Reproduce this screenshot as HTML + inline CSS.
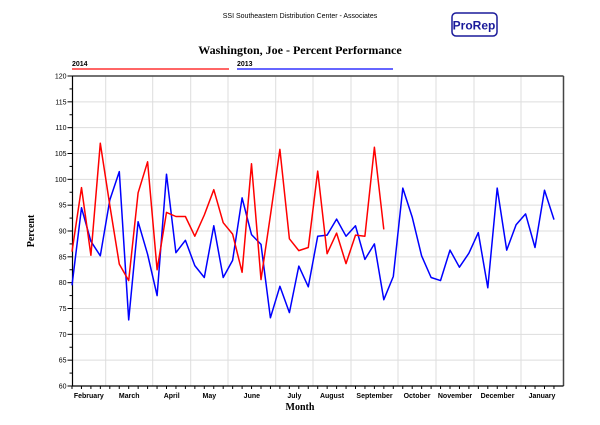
<!DOCTYPE html>
<html><head><meta charset="utf-8"><style>
body{margin:0;background:#fff;width:600px;height:425px;overflow:hidden}
svg{display:block}
</style></head><body>
<svg id="s" width="600" height="425" xmlns="http://www.w3.org/2000/svg" font-family="Liberation Sans, sans-serif">
<text x="300" y="18" font-size="7" text-anchor="middle" fill="#000">SSI Southeastern Distribution Center - Associates</text>
<rect x="452" y="13" width="45" height="23" rx="4" fill="#fff" stroke="#1a1a9a" stroke-width="1.5"/>
<text x="474" y="29.5" font-size="12" font-weight="bold" text-anchor="middle" fill="#1a1a9a">ProRep</text>
<text x="300" y="54" font-size="12" font-weight="bold" text-anchor="middle" font-family="Liberation Serif, serif">Washington, Joe - Percent Performance</text>
<text x="72" y="66" font-size="7" font-weight="bold">2014</text>
<line x1="72" y1="69" x2="229" y2="69" stroke="#f33" stroke-width="1.5"/>
<text x="237" y="66" font-size="7" font-weight="bold">2013</text>
<line x1="237" y1="69" x2="393" y2="69" stroke="#33f" stroke-width="1.5"/>
<g id="g"></g>
<text x="300" y="410" font-size="10" font-weight="bold" text-anchor="middle" font-family="Liberation Serif, serif">Month</text>
<text transform="translate(34,231) rotate(-90)" font-size="10" font-weight="bold" text-anchor="middle" font-family="Liberation Serif, serif">Percent</text>
</svg>
<script>
var L=72.5,R=563.5,T=76,B=386,g=document.getElementById('g'),h='';
function Y(v){return T+(120-v)*(B-T)/60}
function X(i){return 72+i*9.45}
for(var v=60;v<=120;v+=5){var y=Y(v);h+='<line x1="'+L+'" y1="'+y+'" x2="'+R+'" y2="'+y+'" stroke="#ddd" stroke-width="1"/>';
h+='<line x1="'+(L-5)+'" y1="'+y+'" x2="'+L+'" y2="'+y+'" stroke="#000"/>';
h+='<text x="'+(L-6)+'" y="'+(y+2.5)+'" font-size="7" text-anchor="end">'+v+'</text>';
if(v<120){var y2=Y(v+2.5);h+='<line x1="'+(L-3)+'" y1="'+y2+'" x2="'+L+'" y2="'+y2+'" stroke="#000"/>';}}
var vg=[105.7,152.7,190.7,228,275.7,313,351,398,436,474,521];
vg.forEach(function(x){h+='<line x1="'+x+'" y1="'+T+'" x2="'+x+'" y2="'+B+'" stroke="#ddd"/>'});
var ms=['February','March','April','May','June','July','August','September','October','November','December','January'];
var bs=[72].concat(vg).concat([563]);
for(var i=0;i<12;i++){h+='<text x="'+((bs[i]+bs[i+1])/2)+'" y="398" font-size="7" font-weight="bold" text-anchor="middle">'+ms[i]+'</text>'}
for(var i=0;i<52;i++){h+='<line x1="'+X(i)+'" y1="'+B+'" x2="'+X(i)+'" y2="'+(B+3)+'" stroke="#000"/>'}
h+='<line x1="'+L+'" y1="'+T+'" x2="'+R+'" y2="'+T+'" stroke="#444" stroke-width="1.5"/>';
h+='<line x1="'+R+'" y1="'+T+'" x2="'+R+'" y2="'+B+'" stroke="#444" stroke-width="1.5"/>';
h+='<line x1="'+L+'" y1="'+T+'" x2="'+L+'" y2="'+B+'" stroke="#000" stroke-width="1.2"/>';
h+='<line x1="'+L+'" y1="'+B+'" x2="'+R+'" y2="'+B+'" stroke="#000" stroke-width="1.2"/>';
var blue=[79.5,94.5,88,85.2,96,101.5,72.8,91.8,85.5,77.5,101,85.8,88.2,83.3,81,91,81,84.3,96.4,89.3,87.4,73.2,79.3,74.2,83.2,79.2,89,89.2,92.3,89,91,84.5,87.5,76.7,81.2,98.3,92.7,85.2,81,80.4,86.3,83,85.7,89.7,79,98.3,86.3,91.2,93.3,86.8,97.9,92.2];
var red=[86,98.4,85.3,107,95,83.6,80.4,97.4,103.4,82.5,93.6,92.8,92.8,89,93.1,98,91.6,89.4,82,103,80.6,93,105.8,88.5,86.2,86.8,101.6,85.6,89.6,83.7,89.2,89,106.2,90.3];
function pl(a,c){return '<polyline fill="none" stroke="'+c+'" stroke-width="1.5" stroke-linejoin="round" points="'+a.map(function(v,i){return X(i).toFixed(1)+','+Y(v).toFixed(1)}).join(' ')+'"/>'}
h+=pl(blue,'#0000ff')+pl(red,'#ff0000');
g.innerHTML=h;
</script>
</body></html>
